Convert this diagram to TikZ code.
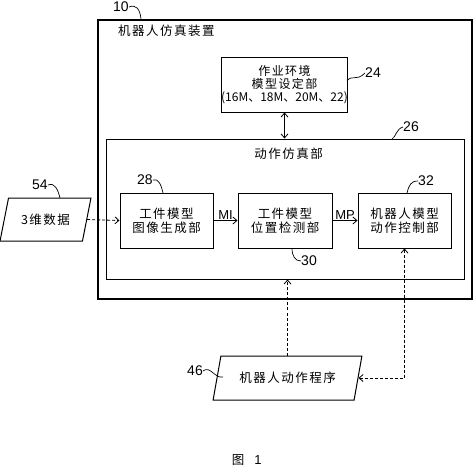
\documentclass[tikz,border=0pt]{standalone}
\usepackage{fontspec}
\setmainfont{Liberation Sans}
\newfontfamily\cjk[LetterSpace=12]{Noto Sans CJK SC}
\newfontfamily\cjkplain{Noto Sans CJK SC}
\usetikzlibrary{arrows.meta,shapes.geometric}
\begin{document}
\begin{tikzpicture}[x=1pt,y=-1pt,
  box/.style={draw,line width=1pt,inner sep=0pt,align=center,font=\cjk\fontsize{12.5}{14}\selectfont},
  para/.style={draw,line width=1pt,trapezium,trapezium left angle=64,trapezium right angle=116,trapezium stretches=true,inner sep=0pt,font=\cjk\fontsize{12.5}{14}\selectfont},
  cjktext/.style={inner sep=0pt,font=\cjk\fontsize{12.5}{14}\selectfont},
  num/.style={font=\fontsize{14}{14}\selectfont,inner sep=0pt},
  sig/.style={font=\fontsize{13}{13}\selectfont,inner sep=1pt},
  lead/.style={line width=0.7pt},
  arr/.style={line width=0.8pt,-{Straight Barb[length=4pt,width=7pt]}},
  darr/.style={line width=0.8pt,{Straight Barb[length=4pt,width=7pt]}-{Straight Barb[length=4pt,width=7pt]}},
  dsh/.style={dash pattern=on 3pt off 2pt}
]
\useasboundingbox (0,0) rectangle (474,466);

% outer box 10
\node[draw,line width=1.6pt,minimum width=374pt,minimum height=279pt,inner sep=0pt,anchor=north west] (outer) at (97,19) {};
\node[cjktext,anchor=west] (title) at (118,31) {机器人仿真装置};
\node[num] (l10) at (121,7) {10};
\draw[lead] (l10.east) .. controls (136,4) and (140,9) .. (141,19);

% box 24
\node[box,minimum width=125pt,minimum height=55pt,font=\cjk\fontsize{12}{13}\selectfont] (b24) at (284.5,84.5) {作业环境\\模型设定部\\{\cjkplain(16M、18M、20M、22)}};
\node[num] (l24) at (373,73) {24};
\draw[lead] (347,81) .. controls (352,74) and (356,82) .. (l24.west);

% box 26
\node[draw,line width=1pt,minimum width=358pt,minimum height=140pt,inner sep=0pt] (b26) at (285,209) {};
\node[cjktext] (t26) at (288.5,154) {动作仿真部};
\node[num] (l26) at (411,127) {26};
\draw[lead] (392,139) .. controls (396,137) and (396,129) .. (l26.west);

\draw[darr] (b24.south) -- (b24.south |- b26.north);

% boxes 28, 30, 32
\node[box,minimum width=93pt,minimum height=55pt] (b28) at (166.5,220.5) {工件模型\\图像生成部};
\node[box,minimum width=94pt,minimum height=55pt] (b30) at (285,220.5) {工件模型\\位置检测部};
\node[box,minimum width=93pt,minimum height=55pt] (b32) at (404.5,220.5) {机器人模型\\动作控制部};

\node[num] (l28) at (145,180) {28};
\draw[lead] (l28.east) .. controls (158,178) and (161,184) .. (163,193);
\node[num] (l30) at (309,261) {30};
\draw[lead] (292,248) .. controls (292,256) and (295,261) .. (l30.west);
\node[num] (l32) at (426,181) {32};
\draw[lead] (407,193) .. controls (409,185) and (411,181) .. (l32.west);

\draw[arr] (b28.east) -- node[sig,above] {MI} (b30.west);
\draw[arr] (b30.east) -- node[sig,above] {MP} (b32.west);

% 54
\node[para,minimum width=91pt,minimum height=43pt] (p54) at (45.5,219.5) {3维数据};
\node[num] (l54) at (40,185) {54};
\draw[lead] (l54.east) .. controls (55,182) and (58,190) .. (60,198);
\draw[arr,dsh] (p54.east) -- (b28.west);

% 46
\node[para,minimum width=149pt,minimum height=44pt] (p46) at (287.5,378) {机器人动作程序};
\node[num] (l46) at (195,371) {46};
\draw[lead] (l46.east) .. controls (210,365) and (215,379) .. (223,377);
\draw[arr,dsh] (p46.north) -- (p46.north |- b26.south);
\draw[darr,dsh] (b32.south) |- (p46.east);

% caption
\node[cjktext] (fig) at (238,460) {图};
\node[inner sep=0pt,font=\fontsize{13}{13}\selectfont] (fignum) at (258,460) {1};
\end{tikzpicture}
\end{document}
